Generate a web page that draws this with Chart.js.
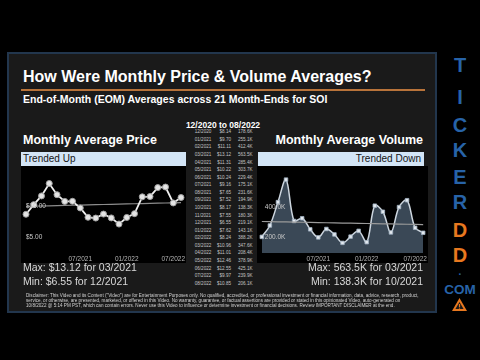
<!DOCTYPE html>
<html><head><meta charset="utf-8">
<script src="https://cdn.jsdelivr.net/npm/chart.js@4/dist/chart.umd.min.js"></script>
<style>
html,body{margin:0;padding:0;background:#000;width:480px;height:360px;overflow:hidden;font-family:"Liberation Sans",Arial,sans-serif;}
#root{position:relative;width:480px;height:360px;background:#000;}
.a{position:absolute;white-space:nowrap;}
#panel{position:absolute;left:7px;top:52px;width:426px;height:257px;background:#1a1a1a;border:2px solid #22364d;}
.box{position:absolute;background:#d3e5f6;color:#141414;font-size:10px;line-height:14px;height:14px;}
.cw{position:absolute;background:#000;}
.tr{position:absolute;font-size:4.6px;color:#c4c4c4;line-height:6px;}
.logo{position:absolute;left:446px;width:28px;text-align:center;font-weight:bold;color:#2763a8;font-size:20px;line-height:20px;}
.or{color:#e8781f;}
</style></head><body>
<div id="root">
  <div id="panel"></div>
  <div class="a" style="left:23px;top:68px;font-size:16px;line-height:18px;font-weight:bold;color:#fff;">How Were Monthly Price &amp; Volume Averages?</div>
  <div class="a" style="left:21px;top:89px;width:404px;height:2px;background:#b8733a;"></div>
  <div class="a" style="left:23px;top:92.5px;font-size:10.5px;line-height:12px;font-weight:bold;color:#fff;">End-of-Month (EOM) Averages across 21 Month-Ends for SOI</div>
  <div class="a" style="left:172px;width:102px;text-align:center;top:120px;font-size:8.5px;line-height:10px;font-weight:bold;color:#fff;">12/2020 to 08/2022</div>
  <div id="table"></div>

  <div class="a" style="left:23px;top:133px;font-size:12.5px;line-height:15px;font-weight:bold;color:#fff;">Monthly Average Price</div>
  <div class="box" style="left:21px;top:152px;width:165px;padding-left:2px;box-sizing:border-box;">Trended Up</div>
  <div class="cw" style="left:21px;top:166px;width:165px;height:97px;"><canvas id="priceChart"></canvas></div>
  <div class="a" style="left:23px;top:261px;font-size:10.5px;line-height:13px;color:#d8d8d8;" id="pmax"></div>
  <div class="a" style="left:23px;top:275px;font-size:10.5px;line-height:13px;color:#d8d8d8;" id="pmin"></div>

  <div class="a" style="right:57px;top:133px;font-size:12.5px;line-height:15px;font-weight:bold;color:#fff;">Monthly Average Volume</div>
  <div class="box" style="left:258px;top:152px;width:166px;padding-right:3px;box-sizing:border-box;text-align:right;">Trended Down</div>
  <div class="cw" style="left:257px;top:166px;width:171px;height:97px;"><canvas id="volChart"></canvas></div>
  <div class="a" style="right:57px;top:261px;font-size:10.5px;line-height:13px;color:#d8d8d8;" id="vmax"></div>
  <div class="a" style="right:57px;top:275px;font-size:10.5px;line-height:13px;color:#d8d8d8;" id="vmin"></div>

  <div class="a" style="left:26px;top:292.5px;font-size:4.6px;line-height:5.3px;color:#d0d0d0;">Disclaimer: This Video and its Content ("Video") are for Entertainment Purposes only. No qualified, accredited, or professional investment or financial information, data, advice, research, product,<br>service, or otherwise, are presented, marketed, or offered in this Video. No warranty, guarantee, or factual assertions are provided or stated in this opinionated Video, auto-generated on<br>10/8/2022 @ 5:14 PM PST, which can contain errors. Never use this Video to influence or determine investment or financial decisions. Review IMPORTANT DISCLAIMER at the end.</div>

  <div class="logo" style="top:55px;">T</div>
  <div class="logo" style="top:87px;">I</div>
  <div class="logo" style="top:115px;">C</div>
  <div class="logo" style="top:140px;">K</div>
  <div class="logo" style="top:167px;">E</div>
  <div class="logo" style="top:192px;">R</div>
  <div class="logo or" style="top:220px;">D</div>
  <div class="logo or" style="top:245px;">D</div>
  <div class="logo" style="top:267px;font-size:10px;line-height:10px;">.</div>
  <div class="logo" style="top:283px;font-size:13.5px;line-height:14px;left:444px;width:32px;">COM</div>
  <svg class="a" style="left:451px;top:297px;" width="17" height="15" viewBox="0 0 17 15"><polygon points="8.5,1 16,14 1,14" fill="#e8781f"/><polygon points="8.5,5 12.6,12 4.4,12" fill="#1a1a1a"/><rect x="7.9" y="7" width="1.2" height="3" fill="#e8781f"/><rect x="7.9" y="10.6" width="1.2" height="1" fill="#e8781f"/></svg>
</div>
<script>
const months = ['12/2020','01/2021','02/2021','03/2021','04/2021','05/2021','06/2021','07/2021','08/2021','09/2021','10/2021','11/2021','12/2021','01/2022','02/2022','03/2022','04/2022','05/2022','06/2022','07/2022','08/2022'];
const avgPrice = [8.14, 9.70, 11.11, 13.12, 11.31, 10.22, 10.24, 9.16, 7.65, 7.52, 8.17, 7.55, 6.55, 7.62, 8.24, 10.96, 11.01, 12.46, 12.55, 9.97, 10.85];
const avgVolumeK = [178.6, 255.1, 412.4, 563.5, 285.4, 303.7, 229.4, 175.1, 231.6, 194.9, 138.3, 180.3, 219.1, 143.1, 388.2, 347.6, 208.4, 378.9, 425.1, 239.9, 206.1];
const xTickLabels = ['07/2021','01/2022','07/2022'];
const priceTicks = [5, 10];
const volumeTicks = [200, 400];

function trend(vals){
  const n = vals.length; let sx=0, sy=0, sxy=0, sxx=0;
  vals.forEach((v,i)=>{sx+=i; sy+=v; sxy+=i*v; sxx+=i*i;});
  const b=(n*sxy-sx*sy)/(n*sxx-sx*sx), a=(sy-b*sx)/n;
  return vals.map((v,i)=>a+b*i);
}
function extreme(vals, fn){ const t = fn(...vals); return vals.indexOf(t); }

const tbl = document.getElementById('table');
months.forEach((m,i)=>{
  const y = 129.3 + i*7.57;
  tbl.insertAdjacentHTML('beforeend',
    `<div class="tr" style="left:190px;width:26px;text-align:center;top:${y}px">${m}</div>`+
    `<div class="tr" style="left:210px;width:21px;text-align:right;top:${y}px">$${avgPrice[i].toFixed(2)}</div>`+
    `<div class="tr" style="left:232px;width:20.5px;text-align:right;top:${y}px">${avgVolumeK[i].toFixed(1)}K</div>`);
});
const pMaxI = extreme(avgPrice, Math.max), pMinI = extreme(avgPrice, Math.min);
const vMaxI = extreme(avgVolumeK, Math.max), vMinI = extreme(avgVolumeK, Math.min);
document.getElementById('pmax').textContent = `Max: $${avgPrice[pMaxI].toFixed(2)} for ${months[pMaxI]}`;
document.getElementById('pmin').textContent = `Min: $${avgPrice[pMinI].toFixed(2)} for ${months[pMinI]}`;
document.getElementById('vmax').textContent = `Max: ${avgVolumeK[vMaxI].toFixed(1)}K for ${months[vMaxI]}`;
document.getElementById('vmin').textContent = `Min: ${avgVolumeK[vMinI].toFixed(1)}K for ${months[vMinI]}`;

const tickFont = {family:'Liberation Sans', size:6.5};
function xAxis(){
  return {
    grid:{display:false, drawTicks:false}, border:{display:false},
    ticks:{color:'#b4b4b4', font:tickFont, autoSkip:false, maxRotation:0, padding:2,
      callback:(v,i)=> xTickLabels.includes(months[i]) ? months[i] : ''},
    afterFit:(s)=>{ s.height = 10; }
  };
}
function yAxis(min, max, ticks, fmt, pad){
  return {
    min, max,
    grid:{display:false, drawTicks:false}, border:{display:false},
    afterBuildTicks:(s)=>{ s.ticks = ticks.map(v=>({value:v})); },
    afterFit:(s)=>{ s.width = 0; },
    ticks:{z:1, mirror:true, autoSkip:false, padding:pad, labelOffset:3.5, color:'#c8c8c8', font:tickFont, callback:fmt}
  };
}
const common = {responsive:true, maintainAspectRatio:false, animation:false, devicePixelRatio:1,
  plugins:{legend:{display:false}, tooltip:{enabled:false}}};

new Chart(document.getElementById('priceChart'), {
  type:'line',
  data:{labels:months, datasets:[
    {data:avgPrice, borderColor:'#efefef', borderWidth:1.8, pointRadius:3, pointBackgroundColor:'#e4e4e4', pointBorderColor:'#a0a0a0', pointBorderWidth:1, tension:0, order:0},
    {data:trend(avgPrice), borderColor:'#8c8c8c', borderWidth:1.2, pointRadius:0, order:1}
  ]},
  options:{...common, layout:{padding:{left:4.3, right:2.7, top:0, bottom:0}},
    scales:{x:xAxis(), y:yAxis(1.86, 15.15, priceTicks, v=>'$'+Number(v).toFixed(2), 0)}}
});

new Chart(document.getElementById('volChart'), {
  type:'line',
  data:{labels:months, datasets:[
    {data:avgVolumeK, borderColor:'#cdd6df', borderWidth:1.5, fill:'start', backgroundColor:'#3a4856', pointStyle:'rect', pointRadius:2.5, pointBackgroundColor:'#e2e8ee', pointBorderColor:'#9fb0c0', pointBorderWidth:0.8, tension:0.35, order:1},
    {data:trend(avgVolumeK), borderColor:'#9a9a9a', borderWidth:1.2, pointRadius:0, order:0}
  ]},
  options:{...common, layout:{padding:{left:2.5, right:2.5, top:0, bottom:0}},
    scales:{x:xAxis(), y:yAxis(70.2, 608.7, volumeTicks, v=>Number(v).toFixed(1)+'K', 3)}}
});
</script>
</body></html>
